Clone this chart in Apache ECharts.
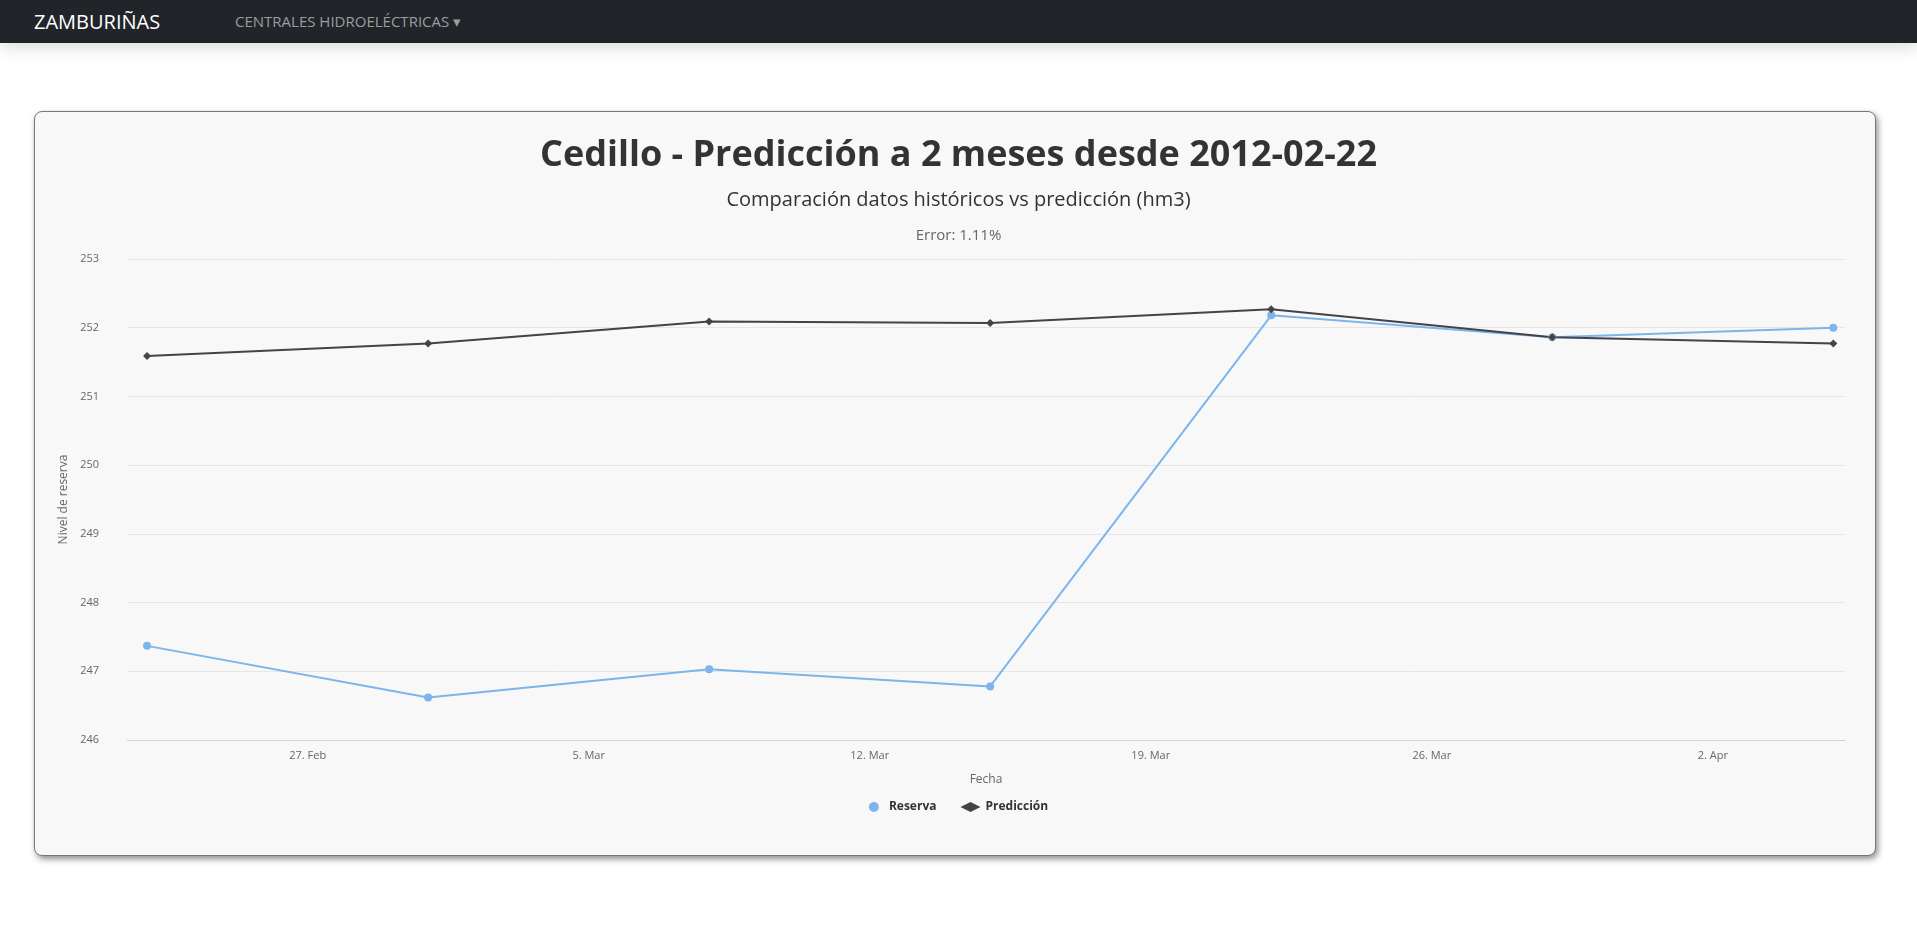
<!DOCTYPE html>
<html><head><meta charset="utf-8">
<script src="https://cdn.jsdelivr.net/npm/echarts@6/dist/echarts.min.js"></script>
<style>
html,body{margin:0;padding:0;width:1917px;height:935px;overflow:hidden;background:#fff;font-family:"Open Sans",sans-serif;}
#nav{position:absolute;left:0;top:0;width:1917px;height:43px;background:#212529;box-shadow:0 6px 16px rgba(0,0,0,0.12);}
#brand{position:absolute;left:34px;top:8px;color:#fff;font-size:20px;}
#menu{position:absolute;left:235px;top:11px;color:#9a9da0;font-size:15px;}
#card{position:absolute;left:34px;top:111px;width:1840px;height:743px;background:#f8f8f8;border:1px solid #777;border-radius:8px;box-shadow:2px 3px 6px rgba(0,0,0,0.45);}
#chart{position:absolute;left:0;top:0;width:1917px;height:935px;}
</style></head><body>
<div id="nav"><div id="brand">ZAMBURIÑAS</div><div id="menu">CENTRALES HIDROELÉCTRICAS &#9662;</div></div>
<div id="card"></div>
<div id="chart"></div>
<script>
const dates = ['2012-02-23','2012-03-01','2012-03-08','2012-03-15','2012-03-22','2012-03-29','2012-04-05'];
const reserva = [247.37, 246.62, 247.03, 246.78, 252.18, 251.86, 252.00];
const prediccion = [251.59, 251.77, 252.09, 252.07, 252.27, 251.86, 251.77];
const xTicks = ['2012-02-27','2012-03-05','2012-03-12','2012-03-19','2012-03-26','2012-04-02'];
const months = ['Jan','Feb','Mar','Apr','May','Jun','Jul','Aug','Sep','Oct','Nov','Dec'];
const t = s => Date.parse(s + 'T00:00:00Z');
const tickVals = xTicks.map(t);
const chart = echarts.init(document.getElementById('chart'), null, {renderer:'canvas'});
chart.setOption({
  animation:false,
  textStyle:{fontFamily:'"Open Sans", sans-serif'},
  title:[
    {text:'Cedillo - Predicción a 2 meses desde 2012-02-22', left:'center', top:133, textStyle:{fontSize:36,fontWeight:'bold',color:'#333'}},
    {text:'Comparación datos históricos vs predicción (hm3)', left:'center', top:185, textStyle:{fontSize:20,fontWeight:'normal',color:'#333'}},
    {text:'Error: 1.11%', left:'center', top:223, textStyle:{fontSize:15,fontWeight:'normal',color:'#666'}}
  ],
  legend:{bottom:117, left:'center', itemGap:24, itemWidth:20, itemHeight:10,
    textStyle:{fontSize:12,fontWeight:'bold',color:'#333'},
    data:[{name:'Reserva',icon:'circle'},{name:'Predicción',icon:'diamond'}]},
  grid:{left:127, right:72, top:259, bottom:195},
  xAxis:{type:'value', min:t('2012-02-22')+12*3600e3, max:t('2012-04-05')+7*3600e3,
    name:'Fecha', nameLocation:'middle', nameGap:34, nameTextStyle:{color:'#666',fontSize:12},
    axisLine:{lineStyle:{color:'#ccd6eb'}}, axisTick:{show:false}, splitLine:{show:false},
    axisLabel:{customValues:tickVals, color:'#666', fontSize:11, margin:10,
      formatter:v=>{const d=new Date(v);return d.getUTCDate()+'. '+months[d.getUTCMonth()];}}},
  yAxis:{type:'value', min:246, max:253, interval:1,
    name:'Nivel de reserva', nameLocation:'middle', nameGap:56, nameTextStyle:{color:'#666',fontSize:12},
    axisLine:{show:false}, axisTick:{show:false},
    axisLabel:{color:'#666', fontSize:11, margin:28},
    splitLine:{lineStyle:{color:'#e6e6e6'}}},
  series:[
    {name:'Reserva', type:'line', data:dates.map((d,i)=>[t(d),reserva[i]]), color:'#7cb5ec',
      symbol:'circle', symbolSize:8, lineStyle:{width:2}},
    {name:'Predicción', type:'line', data:dates.map((d,i)=>[t(d),prediccion[i]]), color:'#434348',
      symbol:'diamond', symbolSize:8, lineStyle:{width:2}}
  ]
});
</script></body></html>
